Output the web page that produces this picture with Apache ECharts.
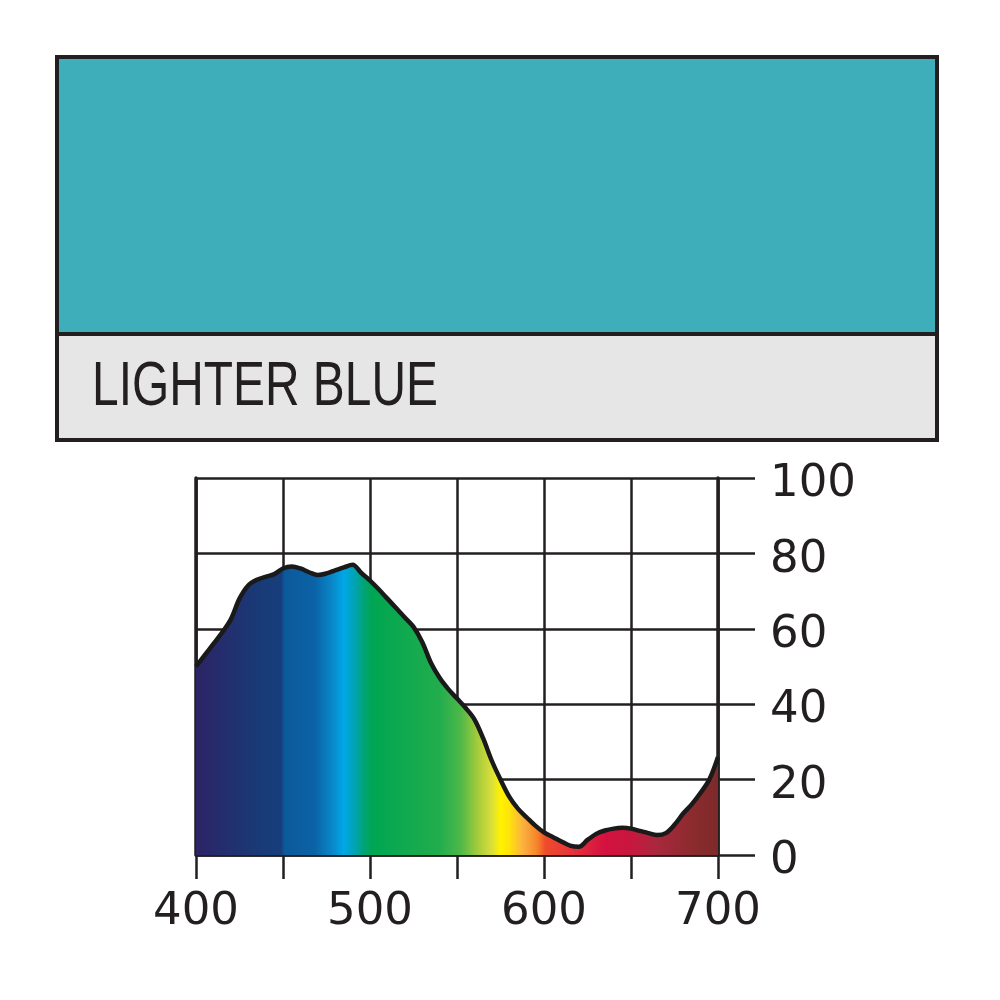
<!DOCTYPE html>
<html>
<head>
<meta charset="utf-8">
<script src="https://cdn.jsdelivr.net/npm/echarts@6/dist/echarts.min.js"></script>
<style>html,body{margin:0;padding:0;background:#fff}#c{width:1000px;height:1000px}</style>
</head>
<body>
<div id="c"></div>
<script>
var filterName = 'LIGHTER BLUE';
var wavelengths = [400,405,410,415,420,425,430,435,440,445,450,455,460,465,470,475,480,485,490,495,500,505,510,515,520,525,530,535,540,545,550,555,560,565,570,575,580,585,590,595,600,605,610,615,620,625,630,635,640,645,650,655,660,665,670,675,680,685,690,695,700];
var transmission = [50,53,56,59,62.5,68,71.5,73,73.8,74.5,76,76.5,76,75,74.3,74.7,75.5,76.3,77,74.8,72.8,70.5,68,65.5,63,60.5,56.5,51,47,44,41.5,39,36,31,25,20,15.5,12.3,10,7.8,6,4.8,3.6,2.5,2.2,4,5.6,6.5,7,7.2,7,6.4,5.8,5.3,5.8,8,11,13.5,16.5,20,26];
var xTickLabels = ['400','500','600','700'];
var yTickLabels = ['0','20','40','60','80','100'];

var spectrumStops = [
  [400,'#2c2466'],[420,'#22306f'],[440,'#173c78'],[449,'#173e7c'],[451,'#0b5a9b'],[468,'#0b62a6'],
  [478,'#0a86c8'],[485,'#00a8e6'],[491,'#00a3b4'],[497,'#00a470'],[502,'#00a651'],[540,'#22ad4d'],
  [552,'#4db848'],[562,'#a6cb3c'],[570,'#d9df3a'],[575,'#fff200'],[580,'#fde30a'],[588,'#fbb040'],
  [596,'#f5852a'],[601,'#ef4b2b'],[615,'#e6353b'],[635,'#d41140'],[650,'#c8173f'],[665,'#a8283c'],
  [685,'#8c2b2e'],[700,'#7d2a2a']
];
var gradStops = spectrumStops.map(function(s){return {offset:(s[0]-400)/300, color:s[1]};});
var seriesData = wavelengths.map(function(w,i){return [w, transmission[i]];});

var chart = echarts.init(document.getElementById('c'));
var lineColor = '#231f20';
chart.setOption({
  animation: false,
  backgroundColor: '#ffffff',
  grid: {left:196, right:282, top:478, bottom:145, containLabel:false},
  xAxis: {
    type:'value', min:400, max:700, interval:50,
    axisLine:{show:true, onZero:false, lineStyle:{color:lineColor, width:2.5}},
    axisTick:{show:true, length:24, lineStyle:{color:lineColor, width:2.5}},
    splitLine:{show:true, lineStyle:{color:lineColor, width:2.5}},
    axisLabel:{
      margin:35, fontSize:45, fontFamily:'DejaVu Sans', color:'#231f20',
      formatter:function(v){var s=String(v); return xTickLabels.indexOf(s)>=0 ? s : '';}
    }
  },
  yAxis: [{
    type:'value', min:0, max:100, interval:20, position:'right',
    axisLine:{show:true, lineStyle:{color:lineColor, width:3.5}},
    axisTick:{show:true, length:37, inside:false, lineStyle:{color:lineColor, width:2.5}},
    splitLine:{show:true, lineStyle:{color:lineColor, width:2.5}},
    axisLabel:{
      margin:52, color:'#231f20', align:'left',
      formatter:function(v){var s=String(v); return yTickLabels.indexOf(s)>=0 ? '{v|' + s + '}' : '';},
      rich:{v:{fontSize:45, fontFamily:'DejaVu Sans', color:'#231f20', padding:[13,0,0,0]}}
    }
  },{
    type:'value', min:0, max:100, position:'left',
    axisLine:{show:true, lineStyle:{color:lineColor, width:3.5}},
    axisTick:{show:false}, axisLabel:{show:false}, splitLine:{show:false}
  }],
  series: [{
    type:'line', data: seriesData, smooth:0.35, showSymbol:false, symbol:'none',
    lineStyle:{color:'#1a1a1a', width:4.5},
    areaStyle:{opacity:1, color:new echarts.graphic.LinearGradient(0,0,1,0,gradStops)},
    z:1
  }],
  graphic: [
    {type:'rect', shape:{x:57, y:57, width:880, height:277}, style:{fill:'#3faebb', stroke:'#231f20', lineWidth:4}},
    {type:'rect', shape:{x:57, y:334, width:880, height:106}, style:{fill:'#e6e6e6', stroke:'#231f20', lineWidth:4}},
    {type:'text', x:92, y:356, scaleX:0.76, scaleY:1, originX:0, originY:0,
     style:{text:filterName, font:'63px "Liberation Sans", Arial, sans-serif', fill:'#231f20', verticalAlign:'top', align:'left'}}
  ]
});
</script>
</body>
</html>
